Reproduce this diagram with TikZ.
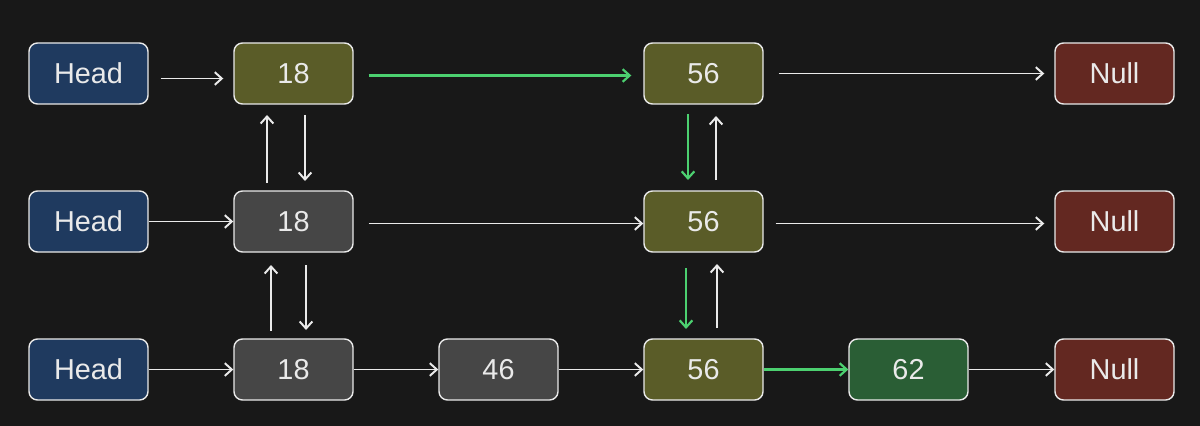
\documentclass[tikz,border=0pt]{standalone}
\usepackage{fontspec}
\setmainfont{Liberation Sans}
\usetikzlibrary{arrows.meta}
\definecolor{bg}{HTML}{181818}
\definecolor{headc}{HTML}{1F3A5F}
\definecolor{olive}{HTML}{5A5C28}
\definecolor{grayc}{HTML}{464646}
\definecolor{greenc}{HTML}{2A5E35}
\definecolor{redc}{HTML}{632821}
\definecolor{linec}{HTML}{EAEAEA}
\definecolor{garrow}{HTML}{4CD070}
\tikzset{
  x=0.025cm, y=-0.025cm,
  box/.style={draw=linec, line width=1pt, rounded corners=6pt, minimum width=119*0.025cm, minimum height=61*0.025cm, inner sep=0pt, text=linec, font=\fontsize{20.5}{24}\selectfont},
  headbox/.style={box, fill=headc},
  olivebox/.style={box, fill=olive},
  graybox/.style={box, fill=grayc},
  greenbox/.style={box, fill=greenc},
  nullbox/.style={box, fill=redc},
  conn/.style={draw=linec, line width=1.4pt, -{Straight Barb[length=5pt,width=9pt]}},
  gconn/.style={conn, draw=garrow, line width=1.55pt},
}
\begin{document}
\begin{tikzpicture}
\fill[bg] (0,0) rectangle (1200,426);
\useasboundingbox (0,0) rectangle (1200,426);
% row 1
\node[headbox] (h1) at (88.5,73.5) {Head};
\node[olivebox] (a1) at (293.5,73.5) {18};
\node[olivebox] (c1) at (703.5,73.5) {56};
\node[nullbox] (n1) at (1114.5,73.5) {Null};
% row 2
\node[headbox] (h2) at (88.5,221.5) {Head};
\node[graybox] (a2) at (293.5,221.5) {18};
\node[olivebox] (c2) at (703.5,221.5) {56};
\node[nullbox] (n2) at (1114.5,221.5) {Null};
% row 3
\node[headbox] (h3) at (88.5,369.5) {Head};
\node[graybox] (a3) at (293.5,369.5) {18};
\node[graybox] (b3) at (498.5,369.5) {46};
\node[olivebox] (c3) at (703.5,369.5) {56};
\node[greenbox] (d3) at (908.5,369.5) {62};
\node[nullbox] (n3) at (1114.5,369.5) {Null};
% horizontal row 1
\draw[conn] ([xshift=12*0.025cm,yshift=-5*0.025cm]h1.east) -- ([xshift=-10*0.025cm,yshift=-5*0.025cm]a1.west);
\draw[gconn] ([xshift=15*0.025cm,yshift=-2*0.025cm]a1.east) -- ([xshift=-12*0.025cm,yshift=-2*0.025cm]c1.west);
\draw[conn] ([xshift=15*0.025cm]c1.east) -- ([xshift=-10*0.025cm]n1.west);
% horizontal row 2
\draw[conn] (h2.east) -- (a2.west);
\draw[conn] ([xshift=15*0.025cm,yshift=-2*0.025cm]a2.east) -- ([yshift=-2*0.025cm]c2.west);
\draw[conn] ([xshift=12*0.025cm,yshift=-2*0.025cm]c2.east) -- ([xshift=-10*0.025cm,yshift=-2*0.025cm]n2.west);
% horizontal row 3
\draw[conn] (h3.east) -- (a3.west);
\draw[conn] (a3.east) -- (b3.west);
\draw[conn] (b3.east) -- (c3.west);
\draw[gconn] (c3.east) -- (d3.west);
\draw[conn] (d3.east) -- (n3.west);
% vertical between row1/row2 at 18
\coordinate (u1s) at (267,183); \coordinate (u1e) at (267,115);
\draw[conn] (u1s) -- (u1e);
\coordinate (d1s) at (305,115); \coordinate (d1e) at (305,181);
\draw[conn] (d1s) -- (d1e);
% vertical between row2/row3 at 18
\coordinate (u2s) at (271,331); \coordinate (u2e) at (271,265);
\draw[conn] (u2s) -- (u2e);
\coordinate (d2s) at (306,265); \coordinate (d2e) at (306,330);
\draw[conn] (d2s) -- (d2e);
% vertical at 56
\coordinate (g1s) at (688,114); \coordinate (g1e) at (688,180);
\draw[gconn] (g1s) -- (g1e);
\coordinate (w1s) at (716,180); \coordinate (w1e) at (716,116);
\draw[conn] (w1s) -- (w1e);
\coordinate (g2s) at (686,268); \coordinate (g2e) at (686,329);
\draw[gconn] (g2s) -- (g2e);
\coordinate (w2s) at (717,328); \coordinate (w2e) at (717,264);
\draw[conn] (w2s) -- (w2e);
\end{tikzpicture}
\end{document}
